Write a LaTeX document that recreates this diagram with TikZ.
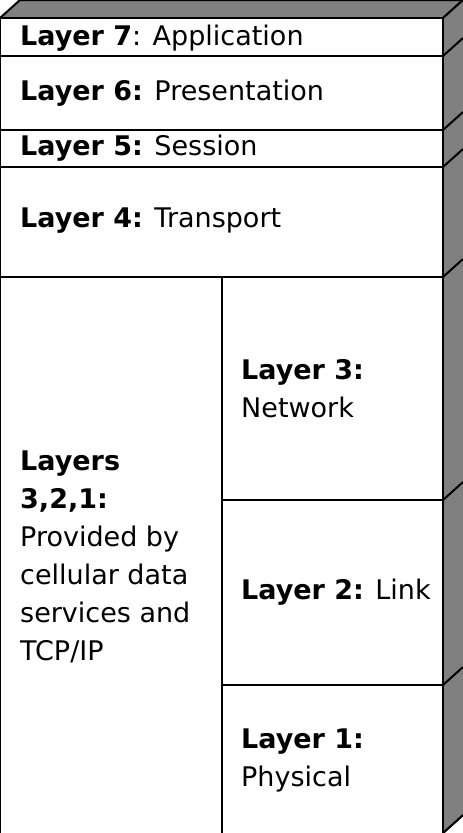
\documentclass[tikz,border=0pt]{standalone}
\usepackage{fontspec}
\setmainfont{DejaVu Sans}
\definecolor{sidegray}{RGB}{128,128,128}
\tikzset{
  box/.style={draw=black, line width=2bp, fill=white},
  face/.style={draw=black, line width=2bp, fill=sidegray, line join=miter},
  edge/.style={draw=black, line width=2bp},
  lbl/.style={anchor=west, inner sep=0pt, font=\fontsize{27bp}{38bp}\selectfont, align=left}
}
\begin{document}
\begin{tikzpicture}[x=1bp,y=-1bp]
\useasboundingbox (0,0) rectangle (463,833);
\begin{scope}
\clip (0,0) rectangle (463,833);
% top face
\draw[face] (0,18) -- (20,0) -- (480,0) -- (463,18) -- cycle;
% side face
\draw[face] (443,18) -- (463,0) -- (480,0) -- (480,833) -- (463,815) -- (443,833) -- cycle;
\fill[sidegray] (443,18) -- (463,0) -- (470,0) -- (470,815) -- (463,815) -- (443,833) -- cycle;
\draw[edge] (443,18) -- (443,840);
\foreach \y in {18,56,130,167,277,500,685,833} {
  \draw[edge] (443,\y) -- (463,\y-18);
}
% front boxes
\draw[box] (0,18) rectangle (443,56);
\draw[box] (0,56) rectangle (443,130);
\draw[box] (0,130) rectangle (443,167);
\draw[box] (0,167) rectangle (443,277);
\draw[box] (0,277) rectangle (222,845);
\draw[box] (222,277) rectangle (443,500);
\draw[box] (222,500) rectangle (443,685);
\draw[box] (222,685) rectangle (443,845);
\end{scope}
% labels
\node[lbl] (l7) at (20,38) {\textbf{Layer 7}: Application};
\node[lbl] (l6) at (20,93) {\textbf{Layer 6:} Presentation};
\node[lbl] (l5) at (20,148) {\textbf{Layer 5:} Session};
\node[lbl] (l4) at (20,221) {\textbf{Layer 4:} Transport};
\node[lbl] (l3) at (241,389) {\textbf{Layer 3:}\\Network};
\node[lbl] (l2) at (241,592) {\textbf{Layer 2:} Link};
\node[lbl] (l1) at (241,760) {\textbf{Layer 1:}\\Physical};
\node[lbl] (l321) at (20,557) {\textbf{Layers}\\\textbf{3,2,1:}\\Provided by\\cellular data\\services and\\TCP/IP};
\end{tikzpicture}
\end{document}
